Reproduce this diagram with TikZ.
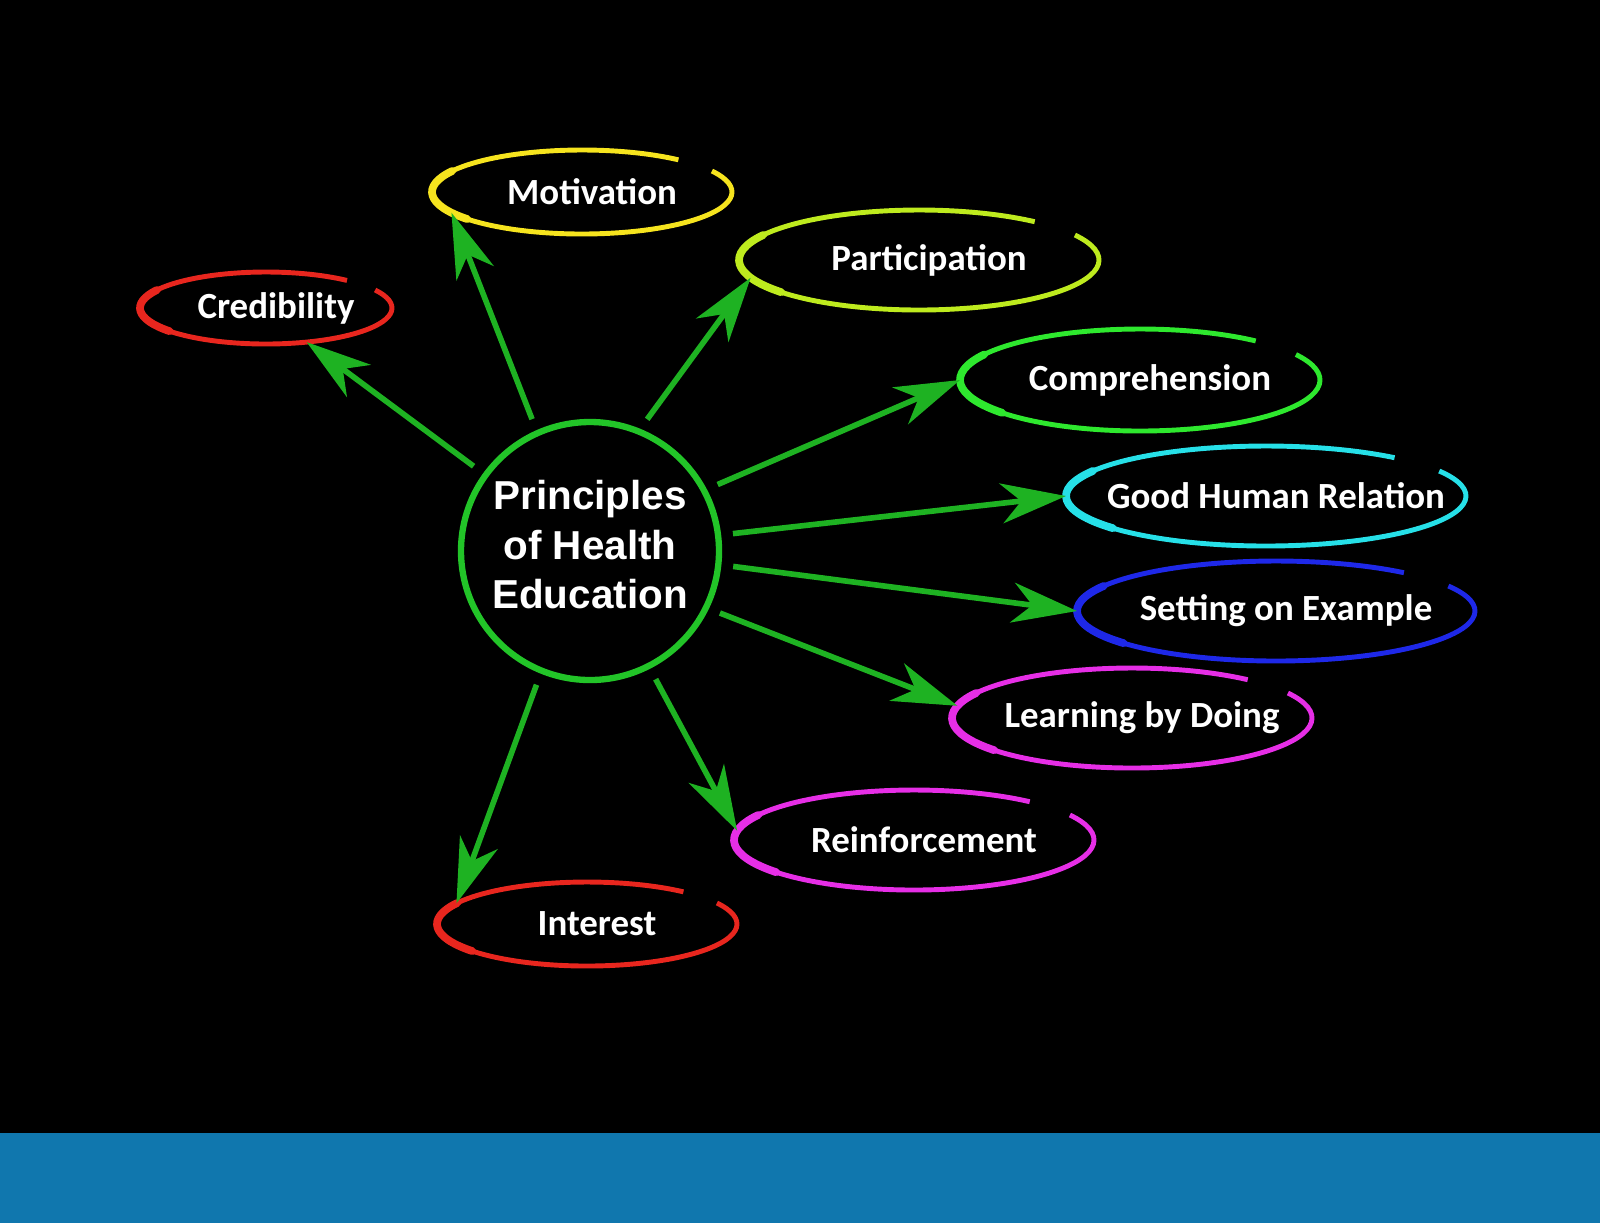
\documentclass[tikz,border=0pt]{standalone}
\usepackage{fontspec}
\setmainfont{Carlito}
\newfontfamily\hubfont{Liberation Sans}
\usepackage{tikz}
\usetikzlibrary{shapes.geometric, arrows.meta, calc}
\definecolor{hubgreen}{RGB}{34,196,40}
\definecolor{arrowgreen}{RGB}{30,178,34}
\definecolor{ringred}{RGB}{232,38,30}
\definecolor{ringyellow}{RGB}{246,228,30}
\definecolor{ringlime}{RGB}{190,235,30}
\definecolor{ringgreen}{RGB}{46,232,46}
\definecolor{ringcyan}{RGB}{38,224,232}
\definecolor{ringblue}{RGB}{30,40,232}
\definecolor{ringpink}{RGB}{230,46,230}
\definecolor{barblue}{RGB}{16,119,174}
\tikzstyle{hub} = [circle, 
minimum size=2.58cm, 
inner sep=0pt, outer sep=0pt, 
draw=hubgreen, line width=1.8pt, 
text=white, align=center, 
font=\hubfont\bfseries\fontsize{11.5}{14.1}\selectfont]
\tikzstyle{topic} = [ellipse, 
inner sep=0pt, outer sep=0pt, 
text=white, 
font=\bfseries\fontsize{10.5}{12}\selectfont,
execute at begin node={\hbox to 0pt\bgroup\hss\kern0.2cm}, % the ring, not the text, sets the size
execute at end node={\hss\egroup}]
\tikzstyle{arrow} = [arrowgreen, line width=1.6pt, 
-{Stealth[length=6.5mm, width=4mm, inset=2mm]}, 
shorten <=1.5mm]
% open hand-drawn ring round a topic: node, colour, x radius, y radius
\newcommand{\ring}[4]{
  \draw[#2, line width=1.4pt] ($(#1.center)+(50:#3 and #4)$)
    arc[start angle=50, end angle=390, x radius=#3, y radius=#4];
  \draw[#2, line width=2.2pt, line cap=round] ($(#1.center)+(150:#3 and #4)$)
    arc[start angle=150, end angle=220, x radius=#3, y radius=#4];
}

\begin{document}
\begin{tikzpicture}
    \useasboundingbox (0,0) rectangle (16,-12.23);
    \fill[black] (0,0) rectangle (16,-12.23);
    \fill[barblue] (0,-11.33) rectangle (16,-12.23);

    \node (hub) [hub] at (5.90,-5.51) {Principles\\of Health\\Education\rule[-0.6ex]{0pt}{0pt}};

    \node (cred) [topic, minimum width=2.52cm, minimum height=0.72cm] at (2.66,-3.08) {Credibility};
    \node (mot) [topic, minimum width=3.0cm, minimum height=0.84cm] at (5.82,-1.92) {Motivation};
    \node (part) [topic, minimum width=3.6cm, minimum height=1.0cm] at (9.19,-2.60) {Participation};
    \node (comp) [topic, minimum width=3.6cm, minimum height=1.02cm] at (11.40,-3.80) {Comprehension};
    \node (ghr) [topic, minimum width=4.0cm, minimum height=1.0cm] at (12.66,-4.96) {Good Human Relation};
    \node (soe) [topic, minimum width=3.98cm, minimum height=1.0cm] at (12.76,-6.11) {Setting on Example};
    \node (lbd) [topic, minimum width=3.6cm, minimum height=1.0cm] at (11.32,-7.18) {Learning by Doing};
    \node (reinf) [topic, minimum width=3.6cm, minimum height=1.0cm] at (9.14,-8.40) {Reinforcement};
    \node (int) [topic, minimum width=3.0cm, minimum height=0.84cm] at (5.87,-9.24) {Interest};

    \ring{cred}{ringred}{1.26cm}{0.36cm}
    \ring{mot}{ringyellow}{1.5cm}{0.42cm}
    \ring{part}{ringlime}{1.8cm}{0.5cm}
    \ring{comp}{ringgreen}{1.8cm}{0.51cm}
    \ring{ghr}{ringcyan}{2.0cm}{0.5cm}
    \ring{soe}{ringblue}{1.99cm}{0.5cm}
    \ring{lbd}{ringpink}{1.8cm}{0.5cm}
    \ring{reinf}{ringpink}{1.8cm}{0.5cm}
    \ring{int}{ringred}{1.5cm}{0.42cm}

    \draw [arrow] (hub.144) -- (cred.-40);
    \draw [arrow] (hub.114) -- (mot.189);
    \draw [arrow] (hub.68) -- (part.186);
    \draw [arrow] (hub.28) -- (comp.180);
    \draw [arrow] (hub.7) -- (ghr.180);
    \draw [arrow] (hub.-6) -- (soe.180);
    \draw [arrow] (hub.-26) -- (lbd.176);
    \draw [arrow] (hub.-63) -- (reinf.177);
    \draw [arrow] (hub.-112) -- (int.171);
\end{tikzpicture}
\end{document}
